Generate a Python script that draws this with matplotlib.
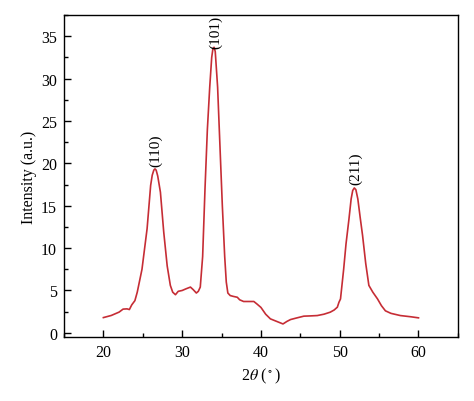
import matplotlib
matplotlib.use("Agg")
import matplotlib.pyplot as plt
from matplotlib.ticker import MultipleLocator

plt.rcParams['font.family'] = ['Liberation Serif', 'DejaVu Serif']
plt.rcParams['mathtext.fontset'] = 'stix'

two_theta = [20.0, 21.0, 22.0, 22.5, 23.0, 23.3, 23.6, 24.0, 24.3, 24.9, 25.55, 26.0, 26.2,
             26.4, 26.55, 26.7, 26.9, 27.24, 27.66, 28.1, 28.5, 28.8, 29.15, 29.5, 30.0, 30.5, 31.05,
             31.4, 31.8, 32.05, 32.3, 32.6, 32.9, 33.2, 33.5, 33.75, 33.9, 34.05, 34.2, 34.5, 34.8,
             35.1, 35.4, 35.6, 35.8, 36.1, 36.5, 37.0, 37.3, 37.8, 38.5, 39.1, 39.5, 40.0,
             40.6, 41.2, 42.0, 42.8, 43.3, 43.76, 44.5, 45.45, 46.3, 47.15, 48.0, 48.8,
             49.3, 49.7, 49.9, 50.1, 50.5, 50.8, 51.17, 51.45, 51.65, 51.85, 52.05, 52.3, 52.6,
             52.9, 53.3, 53.7, 54.2, 54.8, 55.3, 55.8, 56.5, 57.7, 59.0, 60.0]
intensity = [1.8, 2.05, 2.45, 2.8, 2.83, 2.75, 3.3, 3.8, 4.8, 7.5, 12.3, 17.4, 18.6,
             19.2, 19.35, 19.2, 18.5, 16.6, 11.9, 7.9, 5.6, 4.8, 4.5, 4.9, 5.0, 5.2, 5.4,
             5.1, 4.7, 4.9, 5.4, 9.0, 17.0, 24.0, 29.0, 32.5, 33.5, 33.7, 33.2, 29.0, 22.0,
             15.0, 9.0, 6.0, 4.7, 4.4, 4.3, 4.2, 3.9, 3.7, 3.7, 3.7, 3.4, 3.0,
             2.2, 1.65, 1.35, 1.05, 1.35, 1.57, 1.75, 1.97, 2.0, 2.04, 2.2, 2.44,
             2.7, 3.03, 3.6, 4.0, 7.5, 10.5, 13.4, 15.8, 16.8, 17.1, 16.9, 15.8, 13.6,
             11.5, 8.2, 5.6, 4.8, 4.0, 3.2, 2.6, 2.3, 2.04, 1.9, 1.77]

peak_labels = ['(110)', '(101)', '(211)']
peak_pos = [26.6, 34.2, 52.0]
peak_top = [19.7, 33.6, 17.6]

fig = plt.figure(figsize=(4.74, 4.02), dpi=100)
ax = fig.add_axes([0.135, 0.159, 0.831, 0.801])
ax.plot(two_theta, intensity, color='#c62d35', lw=1.2)

for lab, xp, yp in zip(peak_labels, peak_pos, peak_top):
    ax.text(xp, yp, lab, rotation=90, ha='center', va='bottom', fontsize=11)

ax.set_xlim(15, 65)
ax.set_ylim(-0.5, 37.5)
ax.xaxis.set_major_locator(MultipleLocator(10))
ax.xaxis.set_minor_locator(MultipleLocator(5))
ax.yaxis.set_major_locator(MultipleLocator(5))
ax.yaxis.set_minor_locator(MultipleLocator(2.5))
ax.set_xticks([20, 30, 40, 50, 60])
ax.tick_params(which='both', direction='in', top=False, right=False, labelsize=11.5, width=1.0)
ax.tick_params(which='major', length=5, pad=5)
ax.tick_params(which='minor', length=3)
for s in ax.spines.values():
    s.set_linewidth(1.0)

ax.set_xlabel(r'2$\theta$ ($^\circ$)', fontsize=11.5, labelpad=4)
ax.set_ylabel('Intensity (a.u.)', fontsize=11.5, labelpad=3)

fig.savefig('out.png', dpi=100)
